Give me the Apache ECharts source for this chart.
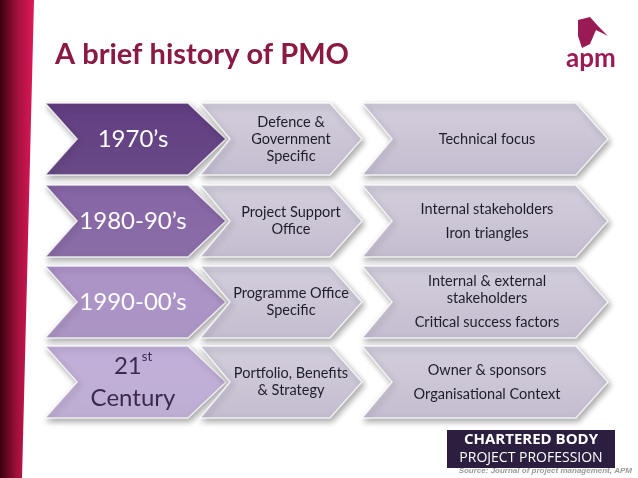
<!DOCTYPE html>
<html><head><meta charset="utf-8">
<script src="https://cdn.jsdelivr.net/npm/echarts@6/dist/echarts.min.js"></script>
<style>html,body{margin:0;padding:0;background:#fff}#main{width:638px;height:478px}</style>
</head><body><div id="main"></div>
<script>
// slide content
var eras = ['1970\u2019s', '1980-90\u2019s', '1990-00\u2019s', '{n|21}{s|st}\nCentury'];
var offices = ['Defence &\nGovernment\nSpecific', 'Project Support\nOffice', 'Programme Office\nSpecific', 'Portfolio, Benefits\n& Strategy'];
var focuses = ['Technical focus', 'Internal stakeholders\n{g| }\nIron triangles', 'Internal & external\nstakeholders\n{g| }\nCritical success factors', 'Owner & sponsors\n{g| }\nOrganisational Context'];
var eraColors = ['#5d3b7c', '#80619f', '#a48cbf', '#b9a7d0'];
var eraText = ['#ffffff', '#ffffff', '#ffffff', '#3b2a4d'];

var dom = document.getElementById('main');
var myChart = echarts.init(dom, null, { renderer: 'canvas' });

var rowTop = [103, 185, 266, 346];
var rowH = 72;
// column layout: left x, notch depth, body right, tip x, text center
var cols = [
  { l: 45, n: 32, r: 188, t: 226, c: 133 },
  { l: 200, n: 30, r: 330, t: 362, c: 291 },
  { l: 362, n: 30, r: 576, t: 608, c: 487 }
];

var data = [];
for (var i = 0; i < eras.length; i++) {
  data.push([i, 0, eras[i]]);
  data.push([i, 1, offices[i]]);
  data.push([i, 2, focuses[i]]);
}

function renderItem(params, api) {
  var row = api.value(0), col = api.value(1);
  var label = data[params.dataIndex][2];
  var g = cols[col];
  var y0 = rowTop[row], y1 = y0 + rowH, ym = y0 + rowH / 2;
  var pts = [[g.l, y0], [g.r, y0], [g.t, ym], [g.r, y1], [g.l, y1], [g.l + g.n, ym]].map(function (p) {
    return api.coord(p);
  });
  var c = api.coord([g.c, ym]);
  var first = col === 0;
  var tc = first ? eraText[row] : '#1e1e28';
  return {
    type: 'group',
    children: [{
      type: 'polygon',
      shape: { points: pts },
      style: {
        fill: first ? new echarts.graphic.LinearGradient(0, 0, 0, 1, [
          { offset: 0, color: echarts.color.lift(eraColors[row], -0.05) },
          { offset: 1, color: echarts.color.lift(eraColors[row], 0.08) }
        ]) : new echarts.graphic.LinearGradient(0, 0, 0, 1, [
          { offset: 0, color: '#d3cedc' },
          { offset: 1, color: '#c4bdd0' }
        ]),
        stroke: 'rgba(255,255,255,0.8)',
        lineWidth: 1.5,
        shadowBlur: 6,
        shadowOffsetX: 2,
        shadowOffsetY: 3,
        shadowColor: 'rgba(0,0,0,0.35)'
      }
    }, {
      type: 'text',
      x: c[0], y: c[1],
      style: {
        text: label,
        align: 'center', verticalAlign: 'middle',
        fontFamily: 'Lato, "Open Sans", sans-serif',
        fontSize: first ? 24 : 14.5,
        lineHeight: first ? 32 : 17,
        fill: tc,
        rich: {
          n: { fontSize: 24, fontFamily: 'Lato, sans-serif', fill: tc },
          s: { fontSize: 13, fontFamily: 'Lato, sans-serif', fill: tc, verticalAlign: 'top', padding: [0, 0, 12, 0] },
          g: { fontSize: 4, lineHeight: 7 }
        }
      }
    }]
  };
}

var option = {
  animation: false,
  grid: { left: 0, right: 0, top: 0, bottom: 0 },
  xAxis: { type: 'value', min: 0, max: 638, show: false },
  yAxis: { type: 'value', min: 0, max: 478, inverse: true, show: false },
  graphic: [
    { type: 'polygon', shape: { points: [[0, 0], [34, 0], [22, 478], [0, 478]] },
      style: { fill: new echarts.graphic.LinearGradient(0, 0, 1, 0, [
        { offset: 0, color: '#3a0010' }, { offset: 0.5, color: '#a0103a' }, { offset: 1, color: '#e0185a' }]) } },
    { type: 'text', left: 55, top: 40,
      style: { text: 'A brief history of PMO', fontSize: 29, fontWeight: 'bold', fontFamily: 'Lato, sans-serif', fill: '#8a1a44' } },
    { type: 'text', left: 566, top: 46,
      style: { text: 'apm', fontSize: 26, fontWeight: 'bold', fontFamily: 'Lato, sans-serif', fill: '#9a1a55' } },
    { type: 'polygon', shape: { points: [[578, 20], [590, 17], [598, 26], [608, 36], [596, 30], [590, 44], [582, 48], [578, 36]] },
      style: { fill: '#9a1a55' } },
    { type: 'rect', shape: { x: 447, y: 430, width: 168, height: 38 }, style: { fill: '#2b1e3e' } },
    { type: 'text', x: 531, y: 440, style: { text: 'CHARTERED BODY', align: 'center', verticalAlign: 'middle', fontSize: 15, fontWeight: 'bold', fontFamily: '"Open Sans", sans-serif', fill: '#fff' } },
    { type: 'text', x: 531, y: 458, style: { text: 'PROJECT PROFESSION', align: 'center', verticalAlign: 'middle', fontSize: 14, fontFamily: '"Open Sans", sans-serif', fill: '#fff' } },
    { type: 'text', right: 6, top: 467, style: { text: 'Source: Journal of project management, APM', fontSize: 8, fontStyle: 'italic', fontWeight: 'bold', fontFamily: 'Liberation Sans, sans-serif', fill: '#9a9a9a' } }
  ],
  series: [{ type: 'custom', renderItem: renderItem, data: data, clip: false }]
};

if (option && typeof option === 'object') {
  myChart.setOption(option);
}
window.addEventListener('resize', myChart.resize);
</script></body></html>
